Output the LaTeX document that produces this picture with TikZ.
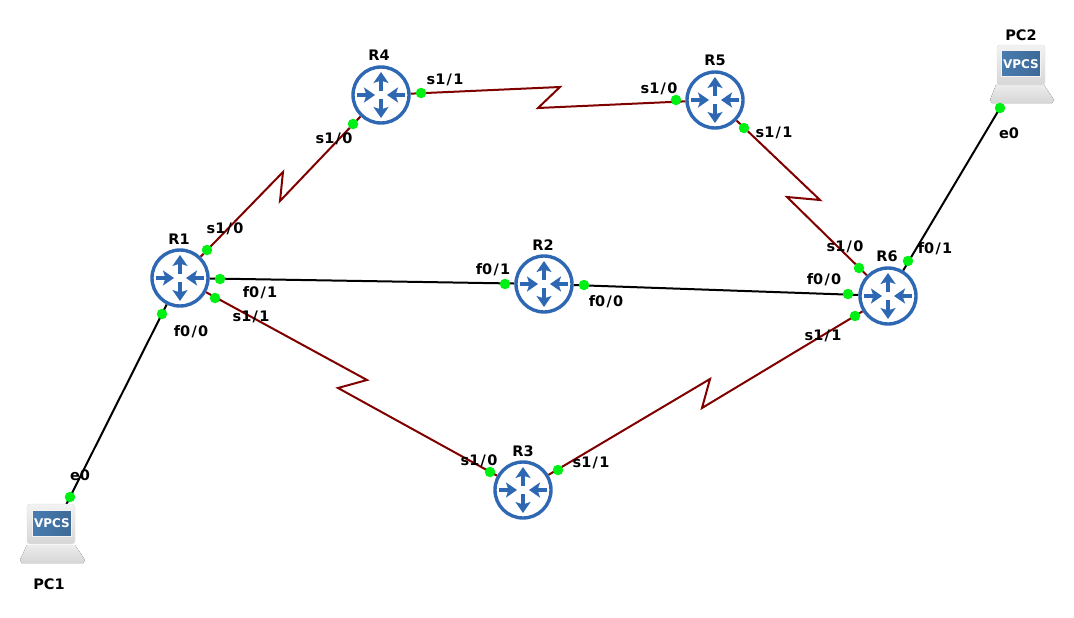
\documentclass[tikz,border=0pt]{standalone}
\usepackage{fontspec}
\setmainfont{DejaVu Sans}
\usetikzlibrary{arrows.meta}
\usetikzlibrary{backgrounds}
\definecolor{routerblue}{RGB}{46,103,178}
\definecolor{serialred}{RGB}{128,0,0}
\definecolor{portgreen}{RGB}{0,240,20}
\definecolor{screenblue}{RGB}{72,124,176}
\newcommand{\ifsl}{\kern1.3pt/\kern1.3pt}
\tikzset{
  router/.style={circle,draw=routerblue,line width=3.4pt,fill=white,minimum size=56pt,inner sep=0pt,
    path picture={
      \foreach \ang in {90,270} {
        \draw[routerblue,line width=4.5pt,-{Stealth[length=11pt,width=15pt,inset=2.5pt]}] (path picture bounding box.center)
          ++(\ang:4pt) -- ++(\ang:19pt);
      }
      \foreach \ang in {0,180} {
        \draw[routerblue,line width=4.5pt,-{Stealth[length=11pt,width=15pt,inset=2.5pt]}] (path picture bounding box.center)
          ++(\ang:24pt) -- ++(\ang:-18pt);
      }
    }},
  port/.style={circle,fill=portgreen,minimum size=10.5pt,inner sep=0pt},
  lbl/.style={font=\bfseries\fontsize{14.5}{16}\selectfont,inner sep=0pt},
  ether/.style={black,line width=2pt},
  serial/.style={serialred,line width=2pt},
  monitor/.style={draw=gray!25,rounded corners=3pt,top color=gray!10,bottom color=gray!32,minimum width=48pt,minimum height=40pt,inner sep=0pt},
  vpcsscreen/.style={draw=gray!10,line width=1pt,left color=screenblue,right color=screenblue!85!black,minimum width=39pt,minimum height=26pt,inner sep=0pt,text=white,font=\bfseries\fontsize{12}{12}\selectfont},
  pcbase/.style={top color=gray!15,bottom color=gray!32,draw=none}
}
\begin{document}
\begin{tikzpicture}[x=1pt,y=-1pt]
\useasboundingbox (0,0) rectangle (1074,618);
% routers
\node[router] (R1) at (180,278) {};
\node[router] (R2) at (544,284) {};
\node[router] (R3) at (523,490) {};
\node[router] (R4) at (381,95) {};
\node[router] (R5) at (715,100) {};
\node[router] (R6) at (888,296) {};
% pcs
\fill[pcbase] (27,545)--(75,545)--(85,560)--(83,563)--(22,563)--(20,560)--cycle;
\node[monitor] (PC1) at (51,524) {};
\node[vpcsscreen] (PC1s) at (52,523) {VPCS};
\fill[pcbase] (996,85)--(1044,85)--(1054,100)--(1052,103)--(992,103)--(990,100)--cycle;
\node[monitor] (PC2) at (1021,65) {};
\node[vpcsscreen] (PC2s) at (1021,64) {VPCS};
% kinks and free ends
\coordinate (k14a) at (283,172);
\coordinate (k14b) at (280,201);
\coordinate (k45a) at (560,87);
\coordinate (k45b) at (538,108);
\coordinate (k56a) at (820,200);
\coordinate (k56b) at (787,197);
\coordinate (k13a) at (367,380);
\coordinate (k13b) at (338,388);
\coordinate (k36a) at (710,379);
\coordinate (k36b) at (702,408);
\coordinate (e1) at (66,505);
\coordinate (e2) at (1000,108);
\begin{scope}[on background layer]
\draw[serial] (R1) -- (k14a) -- (k14b) -- (R4);
\draw[serial] (R4) -- (k45a) -- (k45b) -- (R5);
\draw[serial] (R5) -- (k56a) -- (k56b) -- (R6);
\draw[serial] (R1) -- (k13a) -- (k13b) -- (R3);
\draw[serial] (R3) -- (k36a) -- (k36b) -- (R6);
\draw[ether] (R1) -- (R2);
\draw[ether] (R2) -- (R6);
\draw[ether] (R1) -- (e1);
\draw[ether] (R6) -- (e2);
\end{scope}
% ports
\foreach \nm/\px/\py in {a/207/250,b/220/279,c/215/298,d/162/314,e/505/284,f/584/285,g/490/472,h/558/470,
  i/353/124,j/421/93,k/676/100,l/744/128,m/859/268,n/848/294,o/855/316,p/908/261,q/70/497,r/1000/108} {
  \node[port] (port\nm) at (\px,\py) {};
}
% names
\foreach \nm/\px/\py/\txt in {nR1/179/239/R1,nR2/543/245/R2,nR3/523/451/R3,nR4/379/55/R4,nR5/715/60/R5,nR6/887/256/R6,
  nPC1/49/584/PC1,nPC2/1021/35/PC2} {
  \node[lbl] (\nm) at (\px,\py) {\txt};
}
% interface labels
\foreach \nm/\px/\py/\txt in {la/225/229/s1\ifsl 0,lb/260/293/f0\ifsl 1,lc/251/317/s1\ifsl 1,ld/191/332/f0\ifsl 0,
  le/493/270/f0\ifsl 1,lf/606/302/f0\ifsl 0,lg/479/461/s1\ifsl 0,lh/591/463/s1\ifsl 1,
  li/334/139/s1\ifsl 0,lj/445/80/s1\ifsl 1,lk/659/89/s1\ifsl 0,ll/774/133/s1\ifsl 1,
  lm/845/247/s1\ifsl 0,ln/824/280/f0\ifsl 0,lo/823/336/s1\ifsl 1,lp/935/249/f0\ifsl 1,
  lq/80/475/e0,lr/1009/133/e0} {
  \node[lbl] (\nm) at (\px,\py) {\txt};
}
\end{tikzpicture}
\end{document}
